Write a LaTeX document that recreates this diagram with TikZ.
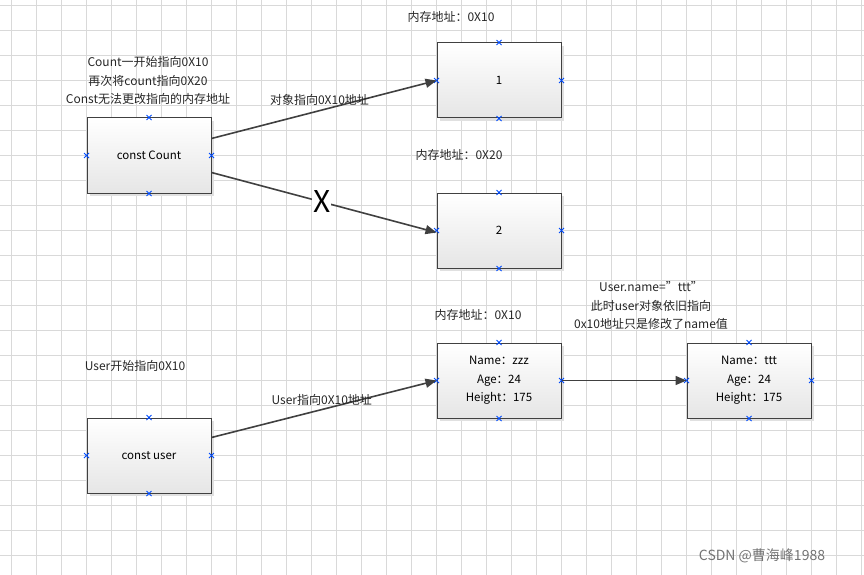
\documentclass[tikz,border=0pt]{standalone}
\usepackage{fontspec}
\setmainfont{Noto Sans CJK SC}
\usetikzlibrary{arrows.meta,shadows}
\begin{document}
\begin{tikzpicture}[x=1pt,y=-1pt,
 box/.style={draw=black!75,line width=1pt,minimum width=124pt,minimum height=75pt,
   top color=white,bottom color=black!10,inner sep=0pt,
   drop shadow={shadow xshift=3pt,shadow yshift=-3pt,fill=black!12,opacity=1},font=\fontsize{11.5}{18.5}\selectfont,align=center},
 conn/.style={draw=black!75,line width=1.6pt,-{Triangle[length=11pt,width=9pt]}},
 lbl/.style={font=\fontsize{12}{18.5}\selectfont,align=center,text=black!85},
 mk/.style={blue!70!cyan,line width=0.8pt}]
\useasboundingbox (0,0) rectangle (864,575);
\draw[black!15,line width=0.8pt] (0,5) -- (864,5);
\foreach \y in {30,55,...,555} \draw[black!15,line width=0.8pt] (0,\y) -- (864,\y);
\foreach \x in {11.7,36.7,...,864} \draw[black!15,line width=0.8pt] (\x,0) -- (\x,575);
\node[box] (cc) at (149,155.5) {const Count};
\node[box] (b1) at (499,80.5) {1};
\node[box] (b2) at (499,230.5) {2};
\node[box] (zz) at (499,380.5) {Name：zzz\\Age：24\\Height：175};
\node[box] (tt) at (749,380.5) {Name：ttt\\Age：24\\Height：175};
\node[box] (cu) at (149,455.5) {const user};
\foreach \n in {cc,b1,b2,zz,tt,cu}{
  \foreach \a in {north,south,east,west}{
    \draw[mk] ([shift={(-2.5,-2.5)}]\n.\a) -- ++(5,5) ([shift={(-2.5,2.5)}]\n.\a) -- ++(5,-5);}}
\coordinate (c1) at ([yshift=17]cc.east);
\coordinate (c2) at ([yshift=-17]cc.east);
\draw[conn] (c1) -- (b1.west) node[lbl,pos=0.48,above=1pt] (l1) {对象指向0X10地址};
\draw[conn] (c2) -- ([yshift=-2]b2.west) node[pos=0.49,font=\fontsize{30}{32}\selectfont,inner sep=1pt,fill=white] (xx) {X};
\draw[conn] ([yshift=18]cu.east) -- (zz.west) node[lbl,pos=0.49,above=0pt] (l2) {User指向0X10地址};
\draw[conn] (zz.east) -- (tt.west);
\node[lbl] (t1) at (148,80.5) {Count一开始指向0X10\\再次将count指向0X20\\Const无法更改指向的内存地址};
\node[lbl] (t2) at (451,17) {内存地址：0X10};
\node[lbl] (t3) at (459,155) {内存地址：0X20};
\node[lbl] (t4) at (478,315) {内存地址：0X10};
\node[lbl] (t5) at (135,366) {User开始指向0X10};
\node[lbl] (t6) at (651,305.5) {User.name=”ttt”\\此时user对象依旧指向\\0x10地址只是修改了name值};
\node[font=\fontsize{14}{16}\selectfont,text=black!55] (wm) at (762,556) {CSDN @曹海峰1988};
\end{tikzpicture}
\end{document}
